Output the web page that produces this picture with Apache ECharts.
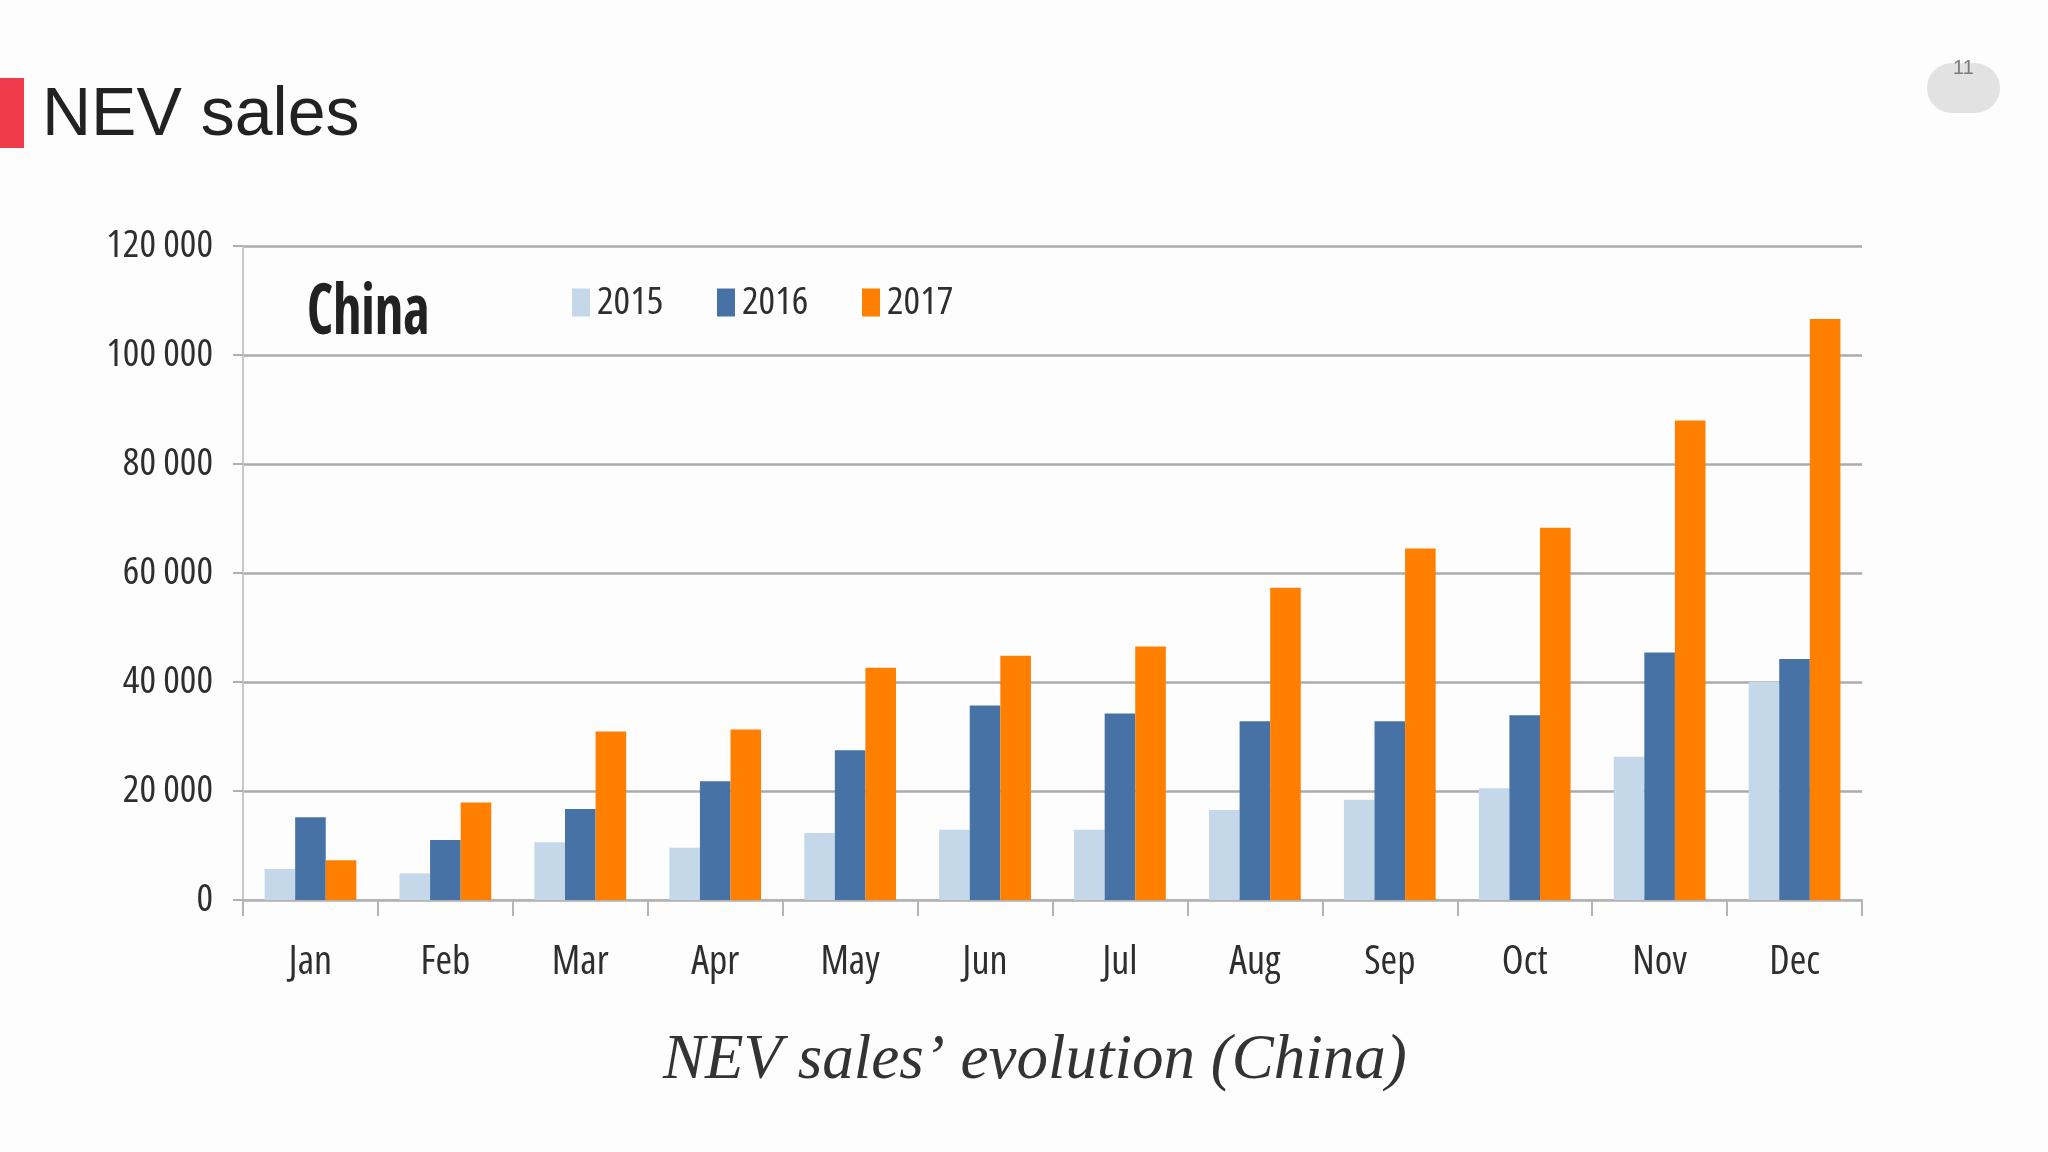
<!DOCTYPE html>
<html>
<head>
<meta charset="utf-8">
<script src="https://cdn.jsdelivr.net/npm/echarts@6/dist/echarts.min.js"></script>
<style>
html,body{margin:0;padding:0;background:#fdfdfe;}
#c{width:2048px;height:1152px;}
</style>
</head>
<body>
<div id="c"></div>
<script>
const months = ["Jan","Feb","Mar","Apr","May","Jun","Jul","Aug","Sep","Oct","Nov","Dec"];
const seriesNames = ["2015","2016","2017"];
const sales2015 = [5700, 4900, 10600, 9600, 12300, 12900, 12900, 16500, 18400, 20500, 26300, 40000];
const sales2016 = [15200, 11000, 16700, 21800, 27500, 35700, 34200, 32800, 32800, 33900, 45400, 44200];
const sales2017 = [7300, 17900, 30900, 31300, 42600, 44800, 46500, 57300, 64500, 68300, 88000, 106600];
const yTicks = [0, 20000, 40000, 60000, 80000, 100000, 120000];

const colors = ["#c5d8ea", "#4672a5", "#ff7f00"];
const narrow = "'Open Sans Condensed', 'Noto Sans Condensed', 'Liberation Sans Narrow', 'DejaVu Sans Condensed', sans-serif";
const openSans = "'Open Sans', 'DejaVu Sans Condensed', sans-serif";

const chart = echarts.init(document.getElementById('c'), null, {renderer: 'canvas'});

function legendAt(name, left) {
  return {
    data: [name],
    left: left,
    top: 283,
    icon: 'rect',
    itemWidth: 18,
    itemHeight: 28,
    itemGap: 0,
    padding: 0,
    selectedMode: false,
    textStyle: {fontFamily: openSans, fontWeight: 'condensed', fontSize: 39, color: '#2e2e2e', padding: [0, 0, 0, 2]}
  };
}

const allSeries = [sales2015, sales2016, sales2017].map((d, i) => ({
  name: seriesNames[i],
  type: 'bar',
  data: d,
  barGap: '0%',
  barCategoryGap: '32%',
  itemStyle: {color: colors[i]},
  emphasis: {disabled: true}
}));

chart.setOption({
  backgroundColor: '#fdfdfe',
  animation: false,
  color: colors,
  legend: [legendAt("2015", 572), legendAt("2016", 717), legendAt("2017", 862)],
  grid: {left: 243, right: 186, top: 246, bottom: 252, containLabel: false},
  xAxis: {
    type: 'category',
    data: months,
    boundaryGap: true,
    axisLine: {show: true, lineStyle: {color: '#b4b4b4', width: 2}},
    axisTick: {show: true, length: 16, lineStyle: {color: '#b4b4b4', width: 2}},
    axisLabel: {fontFamily: openSans, fontWeight: 'condensed', fontSize: 40, color: '#2e2e2e', margin: 43}
  },
  yAxis: {
    type: 'value',
    min: yTicks[0],
    max: yTicks[yTicks.length - 1],
    interval: yTicks[1] - yTicks[0],
    axisLine: {show: true, lineStyle: {color: '#c8c8c8', width: 2}},
    axisTick: {show: true, length: 10, lineStyle: {color: '#b0b0b0', width: 2}},
    splitLine: {show: true, lineStyle: {color: '#ababab', width: 2.5}},
    axisLabel: {
      fontFamily: openSans, fontWeight: 'condensed', fontSize: 39, color: '#2e2e2e', margin: 30,
      formatter: v => String(v).replace(/\B(?=(\d{3})+(?!\d))/g, ' ')
    }
  },
  series: allSeries,
  graphic: [
    {type: 'rect', left: 0, top: 78, shape: {width: 24, height: 70}, style: {fill: '#ef3b4a'}},
    {type: 'text', left: 42, top: 82, style: {text: 'NEV sales', font: '68px "Liberation Sans", Arial, sans-serif', fill: '#222222'}},
    {type: 'rect', left: 1927, top: 63, shape: {width: 73, height: 50, r: 25}, style: {fill: '#e2e2e2'}},
    {type: 'text', left: 1953, top: 58, style: {text: '11', font: '20px "Liberation Sans", Arial, sans-serif', fill: '#7a7a7a'}},
    {type: 'text', x: 307, y: 281, scaleX: 0.8, scaleY: 1, style: {x: 0, y: 0, text: 'China', font: 'bold 70px ' + narrow, fill: '#222222', textVerticalAlign: 'top'}},
    {type: 'text', left: 663, top: 1030, style: {text: 'NEV sales\u2019 evolution (China)', font: 'italic 63px "Liberation Serif", "DejaVu Serif", serif', fill: '#333333'}}
  ]
});
</script>
</body>
</html>
